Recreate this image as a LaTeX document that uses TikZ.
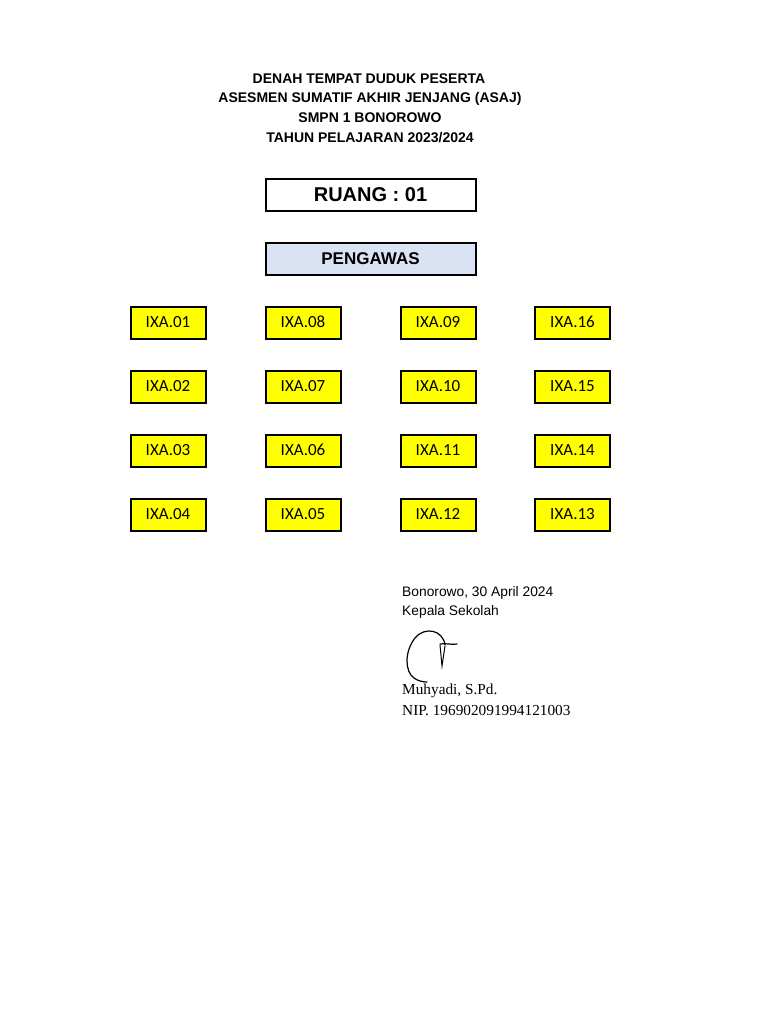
\documentclass[tikz,border=0pt]{standalone}
\usepackage{fontspec}
\setmainfont{Liberation Sans}
\newfontfamily\carl{Carlito}
\newfontfamily\serifx{Liberation Serif}
\definecolor{seatyellow}{HTML}{FFFF00}
\definecolor{pengblue}{HTML}{DAE3F3}
\begin{document}
\begin{tikzpicture}[x=1pt,y=-1pt,
  titletext/.style={font=\fontsize{14}{16}\selectfont\bfseries, anchor=center, inner sep=0},
  seat/.style={draw=black, line width=2pt, fill=seatyellow, minimum width=75pt, minimum height=32pt, inner sep=0, text height=12pt, text depth=4pt, font=\carl\fontsize{17}{19}\selectfont},
  headbox/.style={draw=black, line width=2pt, minimum width=210pt, minimum height=32pt, inner sep=0},
  lefttext/.style={anchor=west, inner sep=0}]
\useasboundingbox (0,0) rectangle (768,1024);
\fill[white] (0,0) rectangle (768,1024);
\node[titletext] (t1) at (369,79) {DENAH TEMPAT DUDUK PESERTA};
\node[titletext] (t2) at (370,99) {ASESMEN SUMATIF AKHIR JENJANG (ASAJ)};
\node[titletext] (t3) at (370,118) {SMPN 1 BONOROWO};
\node[titletext] (t4) at (370,138) {TAHUN PELAJARAN 2023/2024};
\node[headbox, font=\fontsize{20}{22}\selectfont\bfseries] (ruang) at (370.5,195) {RUANG : 01};
\node[headbox, fill=pengblue, font=\fontsize{17}{19}\selectfont\bfseries] (peng) at (370.5,259) {PENGAWAS};
% seats
\foreach \lab/\x/\y in {01/168/323, 02/168/387, 03/168/451, 04/168/515,
                        08/303/323, 07/303/387, 06/303/451, 05/303/515,
                        09/438/323, 10/438/387, 11/438/451, 12/438/515,
                        16/572.5/323, 15/572.5/387, 14/572.5/451, 13/572.5/515}
  \node[seat] (s\lab) at (\x,\y) {IXA.\lab};
% signature block
\node[lefttext, font=\fontsize{13.8}{15}\selectfont] (place) at (402,593) {Bonorowo, 30 April 2024};
\node[lefttext, font=\fontsize{13.8}{15}\selectfont] (role) at (402,612) {Kepala Sekolah};
\node[lefttext, font=\serifx\fontsize{15.3}{17}\selectfont] (name) at (402,691) {Muhyadi, S.Pd.};
\node[lefttext, font=\serifx\fontsize{15.3}{17}\selectfont] (nip) at (402,711) {NIP. 196902091994121003};
% signature strokes
\draw[line width=1.2pt, line cap=round] (445,645) .. controls (443,630) and (425,626) .. (415,638)
  .. controls (404,652) and (405,672) .. (414,678) .. controls (418,681) and (423,682) .. (427,682);
\draw[line width=1.2pt, line cap=round] (440,644) .. controls (446,643) and (452,645) .. (457,644);
\draw[line width=1pt, line cap=round] (440,645) -- (442,666) -- (445,646);
\end{tikzpicture}
\end{document}
